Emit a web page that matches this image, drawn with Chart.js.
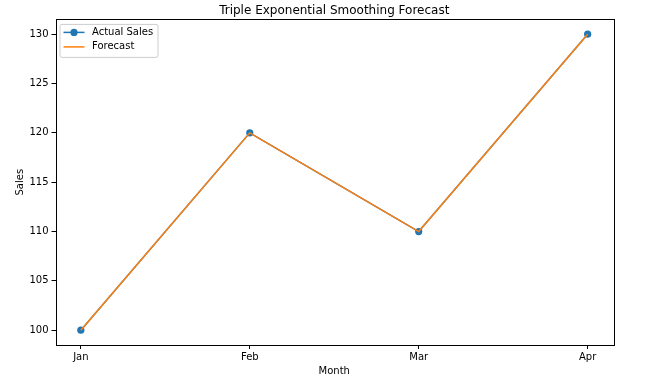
<!DOCTYPE html>
<html>
<head>
<meta charset="utf-8">
<script src="https://cdn.jsdelivr.net/npm/chart.js@4.4.0/dist/chart.umd.min.js"></script>
<style>
  html, body { margin: 0; padding: 0; background: #fff; }
  #wrap { width: 653px; height: 384px; }
</style>
</head>
<body>
<div id="wrap"><canvas id="chart"></canvas></div>
<script>
// data
var months = ["Jan", "Feb", "Mar", "Apr"];
var actualSales = [100, 120, 110, 130];
var forecast = [100, 120, 110, 130];
var yTicks = [100, 105, 110, 115, 120, 125, 130];

var FONT = "'DejaVu Sans', sans-serif";
var BLUE = "#1f77b4";
var ORANGE = "#ff7f0e";

function toPoints(vals) {
  return vals.map(function (v, i) { return { x: i, y: v }; });
}

// frame around the axes + matplotlib-style legend box
var framePlugin = {
  id: "frame",
  afterDatasetsDraw: function (chart) {
    var ctx = chart.ctx, a = chart.chartArea;
    ctx.save();
    ctx.strokeStyle = "#000";
    ctx.lineWidth = 1;
    ctx.strokeRect(Math.round(a.left) + 0.5, Math.round(a.top) + 0.5,
      Math.round(a.right - a.left), Math.round(a.bottom - a.top));

    // legend
    var bx = a.left + 4.5, by = a.top + 5, bw = 98, bh = 33;
    ctx.fillStyle = "rgba(255,255,255,0.8)";
    ctx.strokeStyle = "#cccccc";
    ctx.beginPath();
    ctx.roundRect(bx, by, bw, bh, 2);
    ctx.fill();
    ctx.stroke();

    var rows = [
      { label: "Actual Sales", color: BLUE, marker: true },
      { label: "Forecast", color: ORANGE, marker: false }
    ];
    ctx.font = "10px " + FONT;
    ctx.textBaseline = "middle";
    rows.forEach(function (r, i) {
      var cy = by + 8 + i * 14.5;
      ctx.strokeStyle = r.color;
      ctx.lineWidth = 1.5;
      ctx.beginPath();
      ctx.moveTo(bx + 3.5, cy);
      ctx.lineTo(bx + 24.5, cy);
      ctx.stroke();
      if (r.marker) {
        ctx.fillStyle = r.color;
        ctx.beginPath();
        ctx.arc(bx + 14, cy, 3.6, 0, Math.PI * 2);
        ctx.fill();
      }
      ctx.fillStyle = "#000";
      ctx.fillText(r.label, bx + 32, cy);
    });
    ctx.restore();
  }
};

new Chart(document.getElementById("chart"), {
  type: "line",
  data: {
    datasets: [
      {
        label: "Actual Sales",
        data: toPoints(actualSales),
        borderColor: BLUE,
        backgroundColor: BLUE,
        borderWidth: 1.5,
        pointRadius: 3.6,
        pointBorderWidth: 0,
        pointBackgroundColor: BLUE,
        tension: 0,
        order: 1
      },
      {
        label: "Forecast",
        data: toPoints(forecast),
        borderColor: ORANGE,
        backgroundColor: ORANGE,
        borderWidth: 1.5,
        pointRadius: 0,
        tension: 0,
        order: 0
      }
    ]
  },
  options: {
    responsive: true,
    maintainAspectRatio: false,
    animation: false,
    events: [],
    layout: { padding: { left: 0, right: 40, top: 0, bottom: 0 } },
    plugins: {
      legend: { display: false },
      tooltip: { enabled: false },
      title: {
        display: true,
        fullSize: false,
        text: "Triple Exponential Smoothing Forecast",
        color: "#000",
        font: { family: FONT, size: 12, weight: "normal" },
        padding: { top: 3.5, bottom: 1.5 }
      }
    },
    scales: {
      x: {
        type: "linear",
        min: -0.15,
        max: 3.15,
        afterFit: function (s) { s.height = 39; },
        afterBuildTicks: function (s) {
          s.ticks = months.map(function (m, i) { return { value: i }; });
        },
        ticks: {
          color: "#000",
          font: { family: FONT, size: 10 },
          padding: 2,
          maxRotation: 0,
          callback: function (v) { return months[v]; }
        },
        grid: { display: true, drawOnChartArea: false, drawTicks: true, tickLength: 4, color: "#000" },
        border: { display: false },
        title: {
          display: true,
          text: "Month",
          color: "#000",
          font: { family: FONT, size: 10 },
          padding: { top: 0, bottom: 7 }
        }
      },
      y: {
        min: 98.5,
        max: 131.5,
        afterFit: function (s) { s.width = 55.5; },
        afterBuildTicks: function (s) {
          s.ticks = yTicks.map(function (v) { return { value: v }; });
        },
        ticks: {
          color: "#000",
          font: { family: FONT, size: 10 },
          padding: 3
        },
        grid: { display: true, drawOnChartArea: false, drawTicks: true, tickLength: 4, color: "#000" },
        border: { display: false },
        title: {
          display: true,
          text: "Sales",
          color: "#000",
          font: { family: FONT, size: 10 },
          padding: { top: 14, bottom: 0 }
        }
      }
    }
  },
  plugins: [framePlugin]
});
</script>
</body>
</html>
